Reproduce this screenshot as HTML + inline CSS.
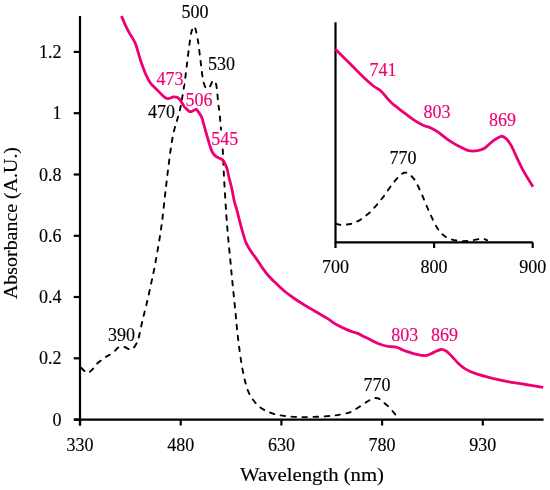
<!DOCTYPE html><html><head><meta charset="utf-8"><style>html,body{margin:0;padding:0;background:#fff;}svg{display:block;}text{font-family:"Liberation Serif", serif;font-size:18px;stroke:#000;stroke-width:0.15px;}</style></head><body>
<svg width="550" height="490" viewBox="0 0 550 490">
<rect width="550" height="490" fill="#fff"/>
<g stroke="#000" stroke-width="2.2" fill="none">
<path d="M80,16 V425.5 M74,419.6 H543.6"/>
<path d="M73.7,419.6 H80"/>
<path d="M73.7,358.3 H80"/>
<path d="M73.7,297.0 H80"/>
<path d="M73.7,235.8 H80"/>
<path d="M73.7,174.5 H80"/>
<path d="M73.7,113.2 H80"/>
<path d="M73.7,51.9 H80"/>
<path d="M80.0,419.6 V425.5"/>
<path d="M180.7,419.6 V425.5"/>
<path d="M281.4,419.6 V425.5"/>
<path d="M382.1,419.6 V425.5"/>
<path d="M482.8,419.6 V425.5"/>
<path d="M335.5,22.2 V242.4 H532.8"/>
<path d="M335.5,242.4 V248"/>
<path d="M434.1,242.4 V248"/>
<path d="M532.7,242.4 V248"/>
</g>
<path d="M81.20,367.80 C82.22,368.65 85.40,372.67 87.30,372.90 C89.20,373.13 90.97,370.75 92.60,369.20 C94.23,367.65 95.70,365.05 97.10,363.60 C98.50,362.15 99.73,361.50 101.00,360.50 C102.27,359.50 103.45,358.45 104.70,357.60 C105.95,356.75 107.02,356.30 108.50,355.40 C109.98,354.50 112.12,353.40 113.60,352.20 C115.08,351.00 116.17,349.15 117.40,348.20 C118.63,347.25 119.82,346.70 121.00,346.50 C122.18,346.30 123.42,346.67 124.50,347.00 C125.58,347.33 126.55,348.07 127.50,348.50 C128.45,348.93 129.28,349.60 130.20,349.60 C131.12,349.60 132.05,349.35 133.00,348.50 C133.95,347.65 135.00,346.12 135.90,344.50 C136.80,342.88 137.32,342.75 138.40,338.80 C139.48,334.85 141.05,326.52 142.40,320.80 C143.75,315.08 145.03,310.78 146.50,304.50 C147.97,298.22 149.73,289.97 151.20,283.10 C152.67,276.23 153.60,272.73 155.30,263.30 C157.00,253.87 159.62,239.27 161.40,226.50 C163.18,213.73 164.47,199.45 166.00,186.70 C167.53,173.95 169.32,159.08 170.60,150.00 C171.88,140.92 172.65,137.07 173.70,132.20 C174.75,127.33 175.82,124.73 176.90,120.80 C177.98,116.87 179.23,112.95 180.20,108.60 C181.17,104.25 181.85,99.87 182.70,94.70 C183.55,89.53 184.53,83.18 185.30,77.60 C186.07,72.02 186.65,66.47 187.30,61.20 C187.95,55.93 188.68,49.90 189.20,46.00 C189.72,42.10 190.00,40.25 190.40,37.80 C190.80,35.35 191.13,33.05 191.60,31.30 C192.07,29.55 192.70,28.08 193.20,27.30 C193.70,26.52 194.13,25.98 194.60,26.60 C195.07,27.22 195.53,29.18 196.00,31.00 C196.47,32.82 196.97,35.17 197.40,37.50 C197.83,39.83 198.17,41.85 198.60,45.00 C199.03,48.15 199.53,52.58 200.00,56.40 C200.47,60.22 200.92,64.08 201.40,67.90 C201.88,71.72 202.30,76.22 202.90,79.30 C203.50,82.38 204.30,84.85 205.00,86.40 C205.70,87.95 206.27,88.60 207.10,88.60 C207.93,88.60 209.03,87.72 210.00,86.40 C210.97,85.08 211.95,81.28 212.90,80.70 C213.85,80.12 215.00,81.23 215.70,82.90 C216.40,84.57 216.70,87.50 217.10,90.70 C217.50,93.90 217.68,98.28 218.10,102.10 C218.52,105.92 219.12,109.12 219.60,113.60 C220.08,118.08 220.48,123.17 221.00,129.00 C221.52,134.83 222.17,140.00 222.70,148.60 C223.23,157.20 223.45,167.62 224.20,180.60 C224.95,193.58 226.08,212.22 227.20,226.50 C228.32,240.78 230.07,257.38 230.90,266.30 C231.73,275.22 231.47,272.62 232.20,280.00 C232.93,287.38 234.27,300.40 235.30,310.60 C236.33,320.80 237.12,331.00 238.40,341.20 C239.68,351.40 241.22,363.12 243.00,371.80 C244.78,380.48 246.30,387.43 249.10,393.30 C251.90,399.17 255.72,403.58 259.80,407.00 C263.88,410.42 269.02,412.27 273.60,413.80 C278.18,415.33 282.00,415.65 287.30,416.20 C292.60,416.75 298.13,417.15 305.40,417.10 C312.67,417.05 324.87,416.37 330.90,415.90 C336.93,415.43 338.35,414.93 341.60,414.30 C344.85,413.67 347.48,413.32 350.40,412.10 C353.32,410.88 356.20,408.82 359.10,407.00 C362.00,405.18 365.65,402.57 367.80,401.20 C369.95,399.83 370.72,399.33 372.00,398.80 C373.28,398.27 374.25,397.97 375.50,398.00 C376.75,398.03 378.17,398.28 379.50,399.00 C380.83,399.72 382.05,401.08 383.50,402.30 C384.95,403.52 386.45,404.55 388.20,406.30 C389.95,408.05 392.37,410.80 394.00,412.80 C395.63,414.80 397.33,417.38 398.00,418.30" fill="none" stroke="#000" stroke-width="1.9" stroke-dasharray="4.5 6.5" stroke-linecap="round"/>
<path d="M336.00,223.50 C336.72,223.72 338.73,224.62 340.30,224.80 C341.87,224.98 343.70,224.73 345.40,224.60 C347.10,224.47 348.87,224.38 350.50,224.00 C352.13,223.62 353.70,222.92 355.20,222.30 C356.70,221.68 358.05,221.12 359.50,220.30 C360.95,219.48 362.62,218.37 363.90,217.40 C365.18,216.43 365.93,215.60 367.20,214.50 C368.47,213.40 368.97,213.55 371.50,210.80 C374.03,208.05 378.65,202.80 382.40,198.00 C386.15,193.20 390.37,186.22 394.00,182.00 C397.63,177.78 401.05,173.43 404.20,172.70 C407.35,171.97 410.23,174.60 412.90,177.60 C415.57,180.60 417.53,185.12 420.20,190.70 C422.87,196.28 426.00,204.80 428.90,211.10 C431.80,217.40 434.68,224.13 437.60,228.50 C440.52,232.87 443.00,235.25 446.40,237.30 C449.80,239.35 454.13,240.22 458.00,240.80 C461.87,241.38 465.72,241.15 469.60,240.80 C473.48,240.45 478.38,238.80 481.30,238.70 C484.22,238.60 486.13,239.95 487.10,240.20" fill="none" stroke="#000" stroke-width="1.9" stroke-dasharray="4.5 6.5" stroke-linecap="round"/>
<path d="M121.40,16.00 C122.00,17.38 123.68,21.48 125.00,24.30 C126.32,27.12 127.98,30.52 129.30,32.90 C130.62,35.28 131.83,36.70 132.90,38.60 C133.97,40.50 134.87,42.17 135.70,44.30 C136.53,46.43 137.18,49.02 137.90,51.40 C138.62,53.78 139.17,55.98 140.00,58.60 C140.83,61.22 141.95,64.48 142.90,67.10 C143.85,69.72 144.78,72.18 145.70,74.30 C146.62,76.42 147.43,78.12 148.40,79.80 C149.37,81.48 150.25,82.92 151.50,84.40 C152.75,85.88 154.25,87.07 155.90,88.70 C157.55,90.33 159.77,92.65 161.40,94.20 C163.03,95.75 164.43,97.28 165.70,98.00 C166.97,98.72 167.72,98.68 169.00,98.50 C170.28,98.32 172.03,97.08 173.40,96.90 C174.77,96.72 176.12,96.95 177.20,97.40 C178.28,97.85 179.00,98.50 179.90,99.60 C180.80,100.70 181.60,102.53 182.60,104.00 C183.60,105.47 184.72,107.13 185.90,108.40 C187.08,109.67 188.43,111.25 189.70,111.60 C190.97,111.95 192.40,110.87 193.50,110.50 C194.60,110.13 195.43,109.08 196.30,109.40 C197.17,109.72 197.80,111.08 198.70,112.40 C199.60,113.72 200.78,115.05 201.70,117.30 C202.62,119.55 203.38,123.03 204.20,125.90 C205.02,128.77 205.78,131.65 206.60,134.50 C207.42,137.35 208.28,140.35 209.10,143.00 C209.92,145.65 210.58,148.35 211.50,150.40 C212.42,152.45 213.47,154.08 214.60,155.30 C215.73,156.52 217.18,157.08 218.30,157.70 C219.42,158.32 220.38,158.38 221.30,159.00 C222.22,159.62 223.08,160.38 223.80,161.40 C224.52,162.42 225.00,163.67 225.60,165.10 C226.20,166.53 226.87,168.07 227.40,170.00 C227.93,171.93 228.05,173.53 228.80,176.70 C229.55,179.87 230.98,184.92 231.90,189.00 C232.82,193.08 233.47,197.67 234.30,201.20 C235.13,204.73 235.95,206.67 236.90,210.20 C237.85,213.73 238.97,218.48 240.00,222.40 C241.03,226.32 242.08,230.28 243.10,233.70 C244.12,237.12 244.98,240.25 246.10,242.90 C247.22,245.55 248.62,247.67 249.80,249.60 C250.98,251.53 252.03,252.87 253.20,254.50 C254.37,256.13 255.15,257.00 256.80,259.40 C258.45,261.80 261.08,266.10 263.10,268.90 C265.12,271.70 266.72,273.77 268.90,276.20 C271.08,278.63 273.53,280.95 276.20,283.50 C278.87,286.05 282.00,289.08 284.90,291.50 C287.80,293.92 290.68,295.95 293.60,298.00 C296.52,300.05 299.48,301.98 302.40,303.80 C305.32,305.62 308.20,307.20 311.10,308.90 C314.00,310.60 316.90,312.30 319.80,314.00 C322.70,315.70 325.82,317.40 328.50,319.10 C331.18,320.80 332.85,322.45 335.90,324.20 C338.95,325.95 343.72,328.23 346.80,329.60 C349.88,330.97 352.58,331.77 354.40,332.40 C356.22,333.03 355.88,332.58 357.70,333.40 C359.52,334.22 363.25,336.28 365.30,337.30 C367.35,338.32 368.30,338.67 370.00,339.50 C371.70,340.33 373.68,341.47 375.50,342.30 C377.32,343.13 378.78,343.82 380.90,344.50 C383.02,345.18 385.93,346.00 388.20,346.40 C390.47,346.80 392.98,346.72 394.50,346.90 C396.02,347.08 396.23,347.13 397.30,347.50 C398.37,347.87 399.38,348.45 400.90,349.10 C402.42,349.75 404.43,350.70 406.40,351.40 C408.37,352.10 410.77,352.77 412.70,353.30 C414.63,353.83 416.28,354.23 418.00,354.60 C419.72,354.97 421.35,355.42 423.00,355.50 C424.65,355.58 426.02,355.67 427.90,355.10 C429.78,354.53 432.10,353.03 434.30,352.10 C436.50,351.17 439.20,349.72 441.10,349.50 C443.00,349.28 444.08,349.83 445.70,350.80 C447.32,351.77 448.68,353.18 450.80,355.30 C452.92,357.42 456.07,361.28 458.40,363.50 C460.73,365.72 462.03,366.95 464.80,368.60 C467.57,370.25 470.35,371.78 475.00,373.40 C479.65,375.02 487.02,376.90 492.70,378.30 C498.38,379.70 503.63,380.77 509.10,381.80 C514.57,382.83 519.82,383.58 525.50,384.50 C531.18,385.42 540.25,386.83 543.20,387.30" fill="none" stroke="#EE0074" stroke-width="2.8" stroke-linejoin="round"/>
<path d="M335.40,49.30 C336.95,50.82 341.52,55.25 344.70,58.40 C347.88,61.55 351.23,64.93 354.50,68.20 C357.77,71.47 361.03,74.95 364.30,78.00 C367.57,81.05 371.25,84.27 374.10,86.50 C376.95,88.73 378.55,88.73 381.40,91.40 C384.25,94.07 387.52,99.02 391.20,102.50 C394.88,105.98 399.82,109.45 403.50,112.30 C407.18,115.15 410.03,117.45 413.30,119.60 C416.57,121.75 420.25,123.85 423.10,125.20 C425.95,126.55 427.95,126.60 430.40,127.70 C432.85,128.80 434.83,129.78 437.80,131.80 C440.77,133.82 444.77,137.45 448.20,139.80 C451.63,142.15 455.00,144.10 458.40,145.90 C461.80,147.70 465.37,149.82 468.60,150.60 C471.83,151.38 475.08,151.03 477.80,150.60 C480.52,150.17 482.35,149.63 484.90,148.00 C487.45,146.37 490.38,142.75 493.10,140.80 C495.82,138.85 499.00,136.63 501.20,136.30 C503.40,135.97 504.60,137.20 506.30,138.80 C508.00,140.40 509.52,142.50 511.40,145.90 C513.28,149.30 515.55,154.95 517.60,159.20 C519.65,163.45 521.15,166.82 523.70,171.40 C526.25,175.98 531.37,184.15 532.90,186.70" fill="none" stroke="#EE0074" stroke-width="2.8" stroke-linejoin="round"/>
<rect x="181.2" y="5.1" width="27.6" height="13.2" fill="#fff"/>
<text x="195.0" y="18.1" text-anchor="middle" fill="#000" style="stroke:#000">500</text>
<rect x="207.4" y="57.2" width="27.9" height="12.8" fill="#fff"/>
<text x="221.4" y="69.8" text-anchor="middle" fill="#000" style="stroke:#000">530</text>
<rect x="156.3" y="71.9" width="27.4" height="13.4" fill="#fff"/>
<text x="170.0" y="85.1" text-anchor="middle" fill="#EE0074" style="stroke:#EE0074">473</text>
<rect x="149.0" y="105.0" width="24.9" height="13.6" fill="#fff"/>
<text x="161.4" y="118.4" text-anchor="middle" fill="#000" style="stroke:#000">470</text>
<rect x="184.9" y="92.9" width="28.1" height="13.4" fill="#fff"/>
<text x="198.9" y="106.1" text-anchor="middle" fill="#EE0074" style="stroke:#EE0074">506</text>
<rect x="210.8" y="130.4" width="27.9" height="14.4" fill="#fff"/>
<text x="224.8" y="144.6" text-anchor="middle" fill="#EE0074" style="stroke:#EE0074">545</text>
<rect x="107.4" y="327.6" width="27.9" height="13.6" fill="#fff"/>
<text x="121.4" y="341.0" text-anchor="middle" fill="#000" style="stroke:#000">390</text>
<rect x="363.0" y="377.9" width="27.9" height="13.5" fill="#fff"/>
<text x="376.9" y="391.2" text-anchor="middle" fill="#000" style="stroke:#000">770</text>
<rect x="390.6" y="327.2" width="28.2" height="14.0" fill="#fff"/>
<text x="404.7" y="341.0" text-anchor="middle" fill="#EE0074" style="stroke:#EE0074">803</text>
<rect x="430.4" y="327.1" width="28.4" height="14.3" fill="#fff"/>
<text x="444.6" y="341.2" text-anchor="middle" fill="#EE0074" style="stroke:#EE0074">869</text>
<rect x="368.7" y="62.3" width="28.4" height="14.2" fill="#fff"/>
<text x="382.9" y="75.5" text-anchor="middle" fill="#EE0074" style="stroke:#EE0074">741</text>
<rect x="422.8" y="104.6" width="28.2" height="14.3" fill="#fff"/>
<text x="436.9" y="117.9" text-anchor="middle" fill="#EE0074" style="stroke:#EE0074">803</text>
<rect x="488.6" y="113.3" width="27.5" height="13.2" fill="#fff"/>
<text x="502.4" y="125.5" text-anchor="middle" fill="#EE0074" style="stroke:#EE0074">869</text>
<rect x="388.6" y="150.5" width="29.1" height="14.5" fill="#fff"/>
<text x="403.1" y="164.0" text-anchor="middle" fill="#000" style="stroke:#000">770</text>
<text x="61.5" y="425.7" text-anchor="end">0</text>
<text x="61.5" y="364.4" text-anchor="end">0.2</text>
<text x="61.5" y="303.1" text-anchor="end">0.4</text>
<text x="61.5" y="241.9" text-anchor="end">0.6</text>
<text x="61.5" y="180.6" text-anchor="end">0.8</text>
<text x="61.5" y="119.3" text-anchor="end">1</text>
<text x="61.5" y="58.0" text-anchor="end">1.2</text>
<text x="80.0" y="450.9" text-anchor="middle">330</text>
<text x="180.7" y="450.9" text-anchor="middle">480</text>
<text x="281.4" y="450.9" text-anchor="middle">630</text>
<text x="382.1" y="450.9" text-anchor="middle">780</text>
<text x="482.8" y="450.9" text-anchor="middle">930</text>
<text x="335.5" y="273.1" text-anchor="middle">700</text>
<text x="434.1" y="273.1" text-anchor="middle">800</text>
<text x="532.7" y="273.1" text-anchor="middle">900</text>
<text x="240" y="481" font-size="19" textLength="144" lengthAdjust="spacingAndGlyphs">Wavelength (nm)</text>
<text transform="translate(17,299) rotate(-90)" x="0" y="0" font-size="19" textLength="152" lengthAdjust="spacingAndGlyphs">Absorbance (A.U.)</text>
</svg></body></html>
